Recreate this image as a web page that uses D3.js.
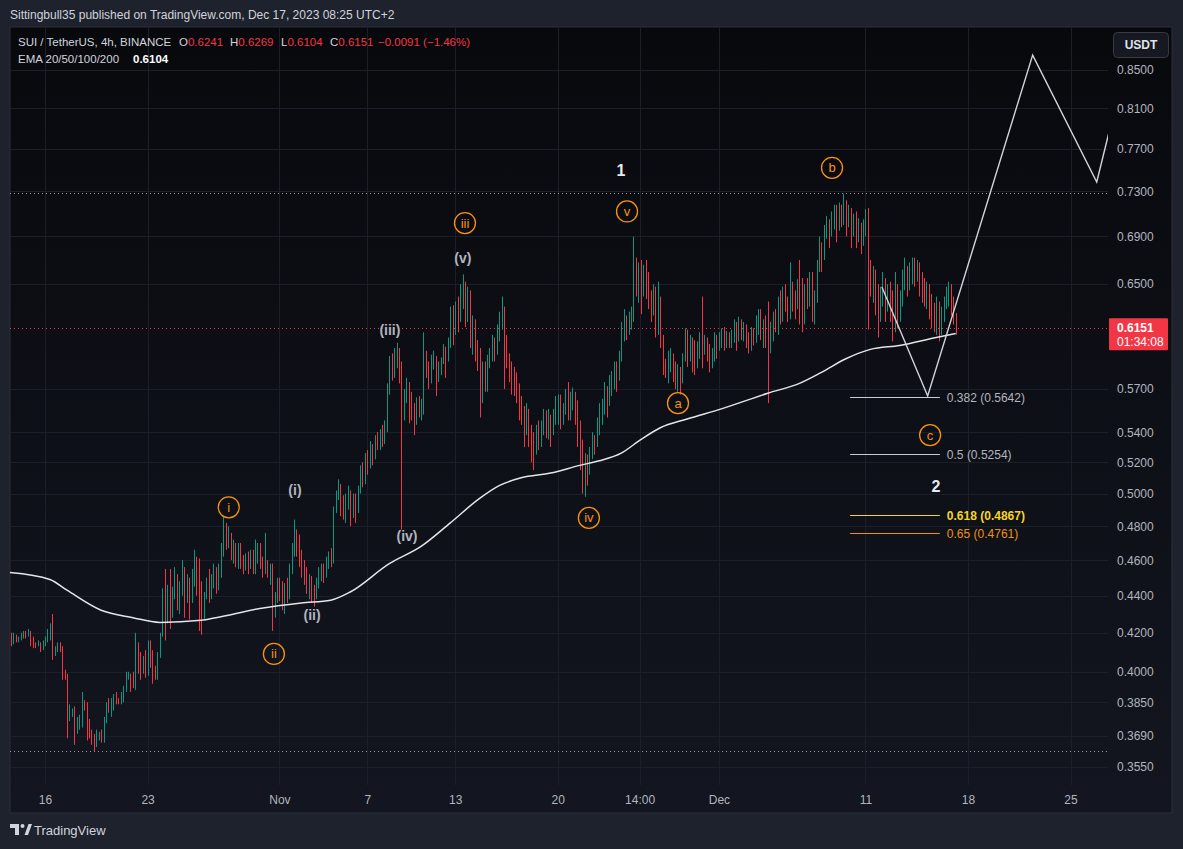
<!DOCTYPE html>
<meta charset="utf-8">
<style>
body { margin: 0; background: #1e222d; }
svg { display: block; font-family: "Liberation Sans", Arial, sans-serif; }
</style>
<body>
<svg width="1183" height="849"></svg>
<script src="https://cdn.jsdelivr.net/npm/d3@7"></script>
<script>

// SUI/USDT 4h bars, first bar Oct 13 16:00 UTC, prices x1000
var closes = [
  415,419,416,417,418,420,419,421,417,414,
  413,415,412,415,417,420,423,408,412,414,
  411,398,397,377,379,381,370,375,378,385,
  382,371,369,368,364,369,370,367,376,384,
  381,385,389,386,385,389,392,397,399,394,
  393,415,403,400,405,399,415,408,398,396,
  408,418,440,425,445,428,440,450,437,445,
  455,442,448,438,452,460,445,436,428,440,
  446,440,448,452,445,455,468,478,470,474,
  465,468,462,468,460,456,462,458,464,455,
  462,468,460,454,456,452,456,430,440,448,
  442,436,445,440,456,466,472,468,460,458,
  450,445,450,442,440,446,451,456,452,458,
  462,460,490,498,505,497,486,495,500,492,
  498,490,502,515,508,522,518,530,526,535,
  532,538,536,545,570,590,585,592,596,580,
  552,565,572,562,556,548,560,553,560,595,
  585,576,588,592,580,585,590,598,592,605,
  625,618,632,626,640,645,625,640,610,618,
  600,596,580,585,575,590,596,604,600,612,
  622,630,606,592,585,580,578,570,560,552,
  545,555,540,535,528,540,536,545,550,542,
  548,540,553,556,560,550,558,566,555,560,
  567,555,548,530,510,522,515,528,535,532,
  545,552,560,565,560,572,575,582,578,595,
  615,620,612,625,628,670,650,660,640,655,
  645,640,630,640,618,630,608,590,580,585,
  590,582,578,580,574,590,598,592,605,600,
  590,600,608,598,605,600,588,596,604,598,
  606,612,605,610,603,608,612,606,618,612,
  615,608,602,612,608,620,625,612,618,605,
  600,615,625,618,632,625,640,632,628,645,
  640,630,650,640,620,645,638,650,628,640,
  665,680,675,690,700,692,705,712,700,715,
  705,722,705,712,698,706,692,700,690,700,
  705,665,650,660,642,630,640,650,640,645,
  630,615,640,625,640,648,658,652,660,668,
  660,664,655,650,642,648,638,625,620,630,
  615,625,635,640,648,635,624,615
];
var highs = [
  420,420,419,418,420,421,421,422,421,418,
  415,416,415,416,418,422,425,430,413,415,
  415,413,401,399,384,382,383,378,379,390,
  386,385,377,372,370,372,371,372,378,385,
  387,387,389,390,387,390,393,400,400,399,
  400,420,412,410,408,411,416,416,411,403,
  410,420,444,455,446,455,445,456,452,448,
  460,456,452,450,455,466,462,461,448,442,
  450,455,452,458,456,458,470,486,482,480,
  476,472,470,470,470,463,464,465,466,466,
  472,470,470,462,476,460,458,458,442,450,
  450,448,447,450,458,470,484,478,475,466,
  460,456,452,451,446,450,456,458,458,462,
  465,467,492,502,509,506,499,500,505,502,
  500,500,505,518,520,526,528,534,532,538,
  540,542,545,548,574,594,596,600,604,600,
  590,570,578,575,568,560,564,565,563,612,
  598,590,595,598,594,590,593,603,601,608,
  632,633,636,640,650,658,652,648,645,625,
  622,606,600,590,590,595,600,610,608,618,
  628,640,632,610,596,590,586,582,574,565,
  558,560,556,545,540,545,548,548,556,555,
  556,552,556,565,566,566,560,570,575,568,
  571,568,562,545,535,526,525,530,540,538,
  550,560,563,575,572,580,583,590,590,598,
  620,630,625,628,632,690,672,668,670,666,
  670,660,645,650,648,652,640,610,592,598,
  600,596,590,588,586,596,615,614,610,608,
  606,605,612,640,610,608,603,600,612,610,
  612,615,616,613,612,614,622,620,624,622,
  620,618,612,616,615,625,630,630,622,625,
  636,620,628,630,640,645,648,650,640,668,
  652,645,654,670,655,650,655,660,660,645,
  670,690,685,700,708,705,712,718,718,720,
  718,728,722,718,715,710,712,706,702,705,
  714,715,670,665,662,650,648,660,655,650,
  652,645,660,650,645,662,672,665,668,672,
  672,670,668,660,655,652,650,642,635,640,
  636,632,640,648,652,650,640,627
];
var lows = [
  413,414,415,415,416,417,417,418,413,412,
  412,413,410,411,413,415,416,406,408,410,
  410,396,396,368,376,378,365,370,372,373,
  381,367,368,365,362,365,367,366,366,375,
  380,378,381,384,384,384,385,390,396,390,
  392,391,399,396,399,397,398,402,394,396,
  396,407,420,416,425,422,428,438,432,430,
  440,428,436,427,436,445,440,421,419,427,
  438,436,438,444,441,443,450,462,466,467,
  460,458,456,455,455,452,454,452,455,452,
  452,458,455,450,452,450,446,421,428,436,
  437,432,430,436,438,452,462,462,456,450,
  446,441,438,436,434,438,444,448,447,450,
  455,456,458,488,496,486,484,482,490,480,
  485,482,488,500,504,506,512,516,518,522,
  528,528,530,532,540,566,576,578,585,574,
  478,548,560,546,548,538,545,550,548,552,
  578,570,574,584,565,575,580,588,578,590,
  600,602,610,612,620,630,616,620,600,595,
  590,583,550,560,568,568,585,590,590,595,
  605,614,570,585,575,566,565,560,548,545,
  530,538,530,520,515,525,528,530,538,536,
  535,530,538,545,545,542,545,552,548,548,
  555,545,530,515,500,498,505,512,522,525,
  530,538,545,552,550,558,565,570,568,576,
  590,605,606,610,614,620,640,635,626,640,
  638,630,620,625,608,610,600,580,578,574,
  582,575,570,568,566,574,590,586,590,582,
  580,585,592,585,595,590,582,585,590,592,
  598,600,598,600,600,600,604,598,605,606,
  605,600,596,598,602,604,610,606,600,600,
  560,596,605,612,610,618,620,628,620,622,
  628,622,630,618,612,618,630,632,620,618,
  635,660,660,670,688,680,690,696,685,695,
  698,700,690,698,680,690,680,685,675,682,
  690,614,640,635,625,608,620,632,620,628,
  620,605,612,615,620,632,645,640,645,650,
  648,652,640,635,632,630,622,615,612,610,
  605,610,620,630,632,625,618,610
];
var firstOpen = 418;

// EMA 200: bar index -> value
var emaIdx = [-1,16,23,37,50,61,78,84,102,119,131,139,155,168,180,192,200,209,221,233,241,250,258,266,277,291,310,323,332,342,352,364,379,387];
var emaVal = [0.4530,0.4490,0.4430,0.4320,0.4280,0.4255,0.4266,0.4280,0.4330,0.4360,0.4375,0.4420,0.4580,0.4680,0.4820,0.4970,0.5050,0.5100,0.5130,0.5180,0.5210,0.5260,0.5350,0.5430,0.5490,0.5560,0.5670,0.5740,0.5820,0.5920,0.5990,0.6020,0.6080,0.6110];

var priceTicks = [0.85,0.81,0.77,0.73,0.69,0.65,0.57,0.54,0.52,0.50,0.48,0.46,0.44,0.42,0.40,0.385,0.369,0.355];
var timeTicks = ["2023-10-16T00:00Z","2023-10-23T00:00Z","2023-11-01T00:00Z","2023-11-07T00:00Z","2023-11-13T00:00Z","2023-11-20T00:00Z","2023-11-25T14:00Z","2023-12-01T00:00Z","2023-12-11T00:00Z","2023-12-18T00:00Z","2023-12-25T00:00Z"];
var timeLabels = ["16","23","Nov","7","13","20","14:00","Dec","11","18","25"];

var lastPrice = 0.6151;
var markLevels = [0.7286, 0.3620];

// fib retracement
var fibRatios = ["0.382","0.5","0.618","0.65"];
var fibPrices = [0.5642,0.5254,0.4867,0.4761];
var fibColors = ["#c9ccd4","#c9ccd4","#f5d42a","#f0900f"];
var fibFrom = "2023-12-09T23:00Z", fibTo = "2023-12-16T02:00Z";

// projected path
var projDates = ["2023-12-12T03:00Z","2023-12-15T06:00Z","2023-12-22T10:00Z","2023-12-26T19:00Z","2023-12-27T19:00Z"];
var projPrices = [0.6477,0.5650,0.8660,0.7387,0.7960];

// wave labels
var circLabels = ["i","ii","iii","iv","v","a","b","c"];
var circDates = ["2023-10-28T13:00Z","2023-10-31T15:00Z","2023-11-13T16:00Z","2023-11-22T03:00Z","2023-11-24T17:30Z","2023-11-28T05:00Z","2023-12-08T17:20Z","2023-12-15T10:00Z"];
var circPrices = [0.4915,0.4090,0.7017,0.4850,0.7120,0.5600,0.7520,0.5380];
var parenLabels = ["(i)","(ii)","(iii)","(iv)","(v)"];
var parenDates = ["2023-11-02T01:30Z","2023-11-03T05:30Z","2023-11-08T13:00Z","2023-11-09T17:00Z","2023-11-13T12:40Z"];
var parenPrices = [0.5020,0.4295,0.6135,0.4740,0.6715];
var bigLabels = ["1","2"];
var bigDates = ["2023-11-24T07:40Z","2023-12-15T19:40Z"];
var bigPrices = [0.7500,0.5050];

var svg = d3.select("svg");
var day = 864e5;
var oct16 = Date.UTC(2023, 9, 16);
var pane = {l: 10, r: 1108, t: 27, b: 785};

var x = d3.scaleUtc()
    .domain([new Date(oct16 - 35 / 14.65 * day), new Date(oct16 + 1063 / 14.65 * day)])
    .range([10, 1108]);
var y = d3.scaleLog().domain([0.355, 0.85]).range([767, 70]);

var barTime = i => new Date(Date.UTC(2023, 9, 13, 16) + i * 4 * 36e5);

// background
var defs = svg.append("defs");
var grad = defs.append("linearGradient").attr("id", "bg").attr("x1", 0).attr("x2", 0).attr("y1", 0).attr("y2", 1);
grad.append("stop").attr("offset", "0%").attr("stop-color", "#08090d");
grad.append("stop").attr("offset", "100%").attr("stop-color", "#131620");
defs.append("clipPath").attr("id", "pane").append("rect")
    .attr("x", pane.l).attr("y", pane.t).attr("width", pane.r - pane.l).attr("height", pane.b - pane.t);

svg.append("rect").attr("x", pane.l).attr("y", pane.t).attr("width", 1172 - pane.l).attr("height", 813 - pane.t)
    .attr("fill", "url(#bg)").attr("stroke", "#2a2e39");

svg.append("text").attr("x", 10).attr("y", 19).attr("fill", "#d1d4dc").attr("font-size", 12)
    .text("Sittingbull35 published on TradingView.com, Dec 17, 2023 08:25 UTC+2");

// grid
var grid = svg.append("g").attr("stroke", "#1c1f2a").attr("stroke-width", 1);
grid.selectAll(".h").data(priceTicks).enter().append("line")
    .attr("x1", pane.l).attr("x2", pane.r)
    .attr("y1", d => Math.round(y(d)) + 0.5).attr("y2", d => Math.round(y(d)) + 0.5);
grid.selectAll(".v").data(timeTicks).enter().append("line")
    .attr("x1", d => Math.round(x(new Date(d))) + 0.5).attr("x2", d => Math.round(x(new Date(d))) + 0.5)
    .attr("y1", pane.t).attr("y2", pane.b);

var plot = svg.append("g").attr("clip-path", "url(#pane)");

// dotted marks
plot.selectAll(".mark").data(markLevels).enter().append("line")
    .attr("x1", pane.l).attr("x2", pane.r)
    .attr("y1", d => Math.round(y(d)) + 0.5).attr("y2", d => Math.round(y(d)) + 0.5)
    .attr("stroke", "#9598a1").attr("stroke-dasharray", "1,3");

// candles
var bars = closes.map((c, i) => {
  var o = i ? closes[i - 1] : firstOpen;
  return {t: barTime(i), o: o / 1000, c: c / 1000,
          h: Math.max(highs[i], o, c) / 1000, l: Math.min(lows[i], o, c) / 1000};
});
plot.append("g").selectAll("rect").data(bars).enter().append("rect")
    .attr("x", d => Math.round(x(d.t)))
    .attr("width", 1)
    .attr("y", d => y(d.h))
    .attr("height", d => Math.max(1, y(d.l) - y(d.h)))
    .attr("fill", d => d.c >= d.o ? "#089981" : "#f23645");

// ema 200
var ema = d3.line()
    .x((d, i) => x(barTime(emaIdx[i])))
    .y(d => y(d))
    .curve(d3.curveMonotoneX);
plot.append("path").datum(emaVal).attr("d", ema)
    .attr("fill", "none").attr("stroke", "#e3e5ea").attr("stroke-width", 1.5);

// last price line
plot.append("line").attr("x1", pane.l).attr("x2", pane.r)
    .attr("y1", Math.round(y(lastPrice)) + 0.5).attr("y2", Math.round(y(lastPrice)) + 0.5)
    .attr("stroke", "#f23645").attr("stroke-dasharray", "1,3");

// fib
var fg = plot.append("g");
fibPrices.forEach((p, i) => {
  var yy = Math.round(y(p)) + 0.5;
  fg.append("line").attr("x1", x(new Date(fibFrom))).attr("x2", x(new Date(fibTo)))
      .attr("y1", yy).attr("y2", yy).attr("stroke", fibColors[i]).attr("stroke-width", 1);
  fg.append("text").attr("x", x(new Date(fibTo)) + 7).attr("y", yy + 4)
      .attr("fill", fibColors[i] == "#c9ccd4" ? "#b2b5be" : fibColors[i])
      .attr("font-size", 12).attr("font-weight", i == 2 ? "bold" : "normal")
      .text(fibRatios[i] + " (" + p.toFixed(4) + ")");
});

// projection
plot.append("path")
    .datum(projDates.map((d, i) => [new Date(d), projPrices[i]]))
    .attr("d", d3.line().x(d => x(d[0])).y(d => y(d[1])))
    .attr("fill", "none").attr("stroke", "#d1d4dc").attr("stroke-width", 1.4);

// wave labels
var lg = plot.append("g").attr("text-anchor", "middle");
circLabels.forEach((t, i) => {
  var cx = x(new Date(circDates[i])), cy = y(circPrices[i]);
  lg.append("circle").attr("cx", cx).attr("cy", cy).attr("r", 10.5)
      .attr("fill", "none").attr("stroke", "#f7930f").attr("stroke-width", 1.3);
  lg.append("text").attr("x", cx).attr("y", cy + 4.5).attr("fill", "#f7930f")
      .attr("font-size", 13).text(t);
});
parenLabels.forEach((t, i) => {
  lg.append("text").attr("x", x(new Date(parenDates[i]))).attr("y", y(parenPrices[i]) + 5)
      .attr("fill", "#b2b5be").attr("font-size", 14).attr("font-weight", "bold").text(t);
});
bigLabels.forEach((t, i) => {
  lg.append("text").attr("x", x(new Date(bigDates[i]))).attr("y", y(bigPrices[i]) + 6)
      .attr("fill", "#e8eaef").attr("font-size", 16).attr("font-weight", "bold").text(t);
});

// price axis
var yAxis = svg.append("g").attr("transform", "translate(" + pane.r + ",0)")
    .call(d3.axisRight(y).tickValues(priceTicks).tickFormat(d3.format(".4f")).tickSize(0).tickPadding(9));
yAxis.select(".domain").remove();
yAxis.selectAll("text").attr("fill", "#b2b5be").attr("font-size", 12)
    .attr("font-family", "Liberation Sans, Arial, sans-serif");

// time axis
var xAxis = svg.append("g").attr("transform", "translate(0," + pane.b + ")")
    .call(d3.axisBottom(x).tickValues(timeTicks.map(d => new Date(d)))
      .tickFormat((d, i) => timeLabels[i]).tickSize(0).tickPadding(10));
xAxis.select(".domain").remove();
xAxis.selectAll("text").attr("fill", "#b2b5be").attr("font-size", 12)
    .attr("font-family", "Liberation Sans, Arial, sans-serif");

// last price tag
var ly = y(lastPrice);
svg.append("rect").attr("x", 1109).attr("y", ly - 10).attr("width", 59).attr("height", 32)
    .attr("fill", "#f23645").attr("rx", 1);
svg.append("text").attr("x", 1117).attr("y", ly + 4).attr("fill", "#fff").attr("font-size", 12)
    .attr("font-weight", "bold").text(lastPrice.toFixed(4));
svg.append("text").attr("x", 1117).attr("y", ly + 18).attr("fill", "#fff").attr("font-size", 12)
    .text("01:34:08");

// currency button
svg.append("rect").attr("x", 1113.5).attr("y", 32.5).attr("width", 55).attr("height", 25).attr("rx", 4)
    .attr("fill", "#161922").attr("stroke", "#363a45");
svg.append("text").attr("x", 1141).attr("y", 49).attr("text-anchor", "middle").attr("fill", "#e0e3eb")
    .attr("font-size", 12).attr("font-weight", "bold").text("USDT");

// legend
var leg = svg.append("g").attr("font-size", 11.5);
var l1 = leg.append("text").attr("x", 18).attr("y", 46).attr("fill", "#d1d4dc");
l1.append("tspan").text("SUI / TetherUS, 4h, BINANCE");
[["O", "0.6241", 179], ["H", "0.6269", 230], ["L", "0.6104", 281], ["C", "0.6151", 330]].forEach(p => {
  l1.append("tspan").attr("x", p[2]).text(p[0]);
  l1.append("tspan").attr("fill", "#f23645").text(p[1]);
});
l1.append("tspan").attr("x", 378).attr("fill", "#f23645").text("\u22120.0091 (\u22121.46%)");
var l2 = leg.append("text").attr("x", 18).attr("y", 63).attr("fill", "#d1d4dc");
l2.append("tspan").text("EMA 20/50/100/200");
l2.append("tspan").attr("x", 133).attr("fill", "#ffffff").attr("font-weight", "bold").text("0.6104");

// logo
var logo = svg.append("g").attr("fill", "#d1d4dc");
logo.append("path").attr("d", "M10 824h9v11h-4v-7h-5z");
logo.append("circle").attr("cx", 22.5).attr("cy", 826).attr("r", 2);
logo.append("path").attr("d", "M24.5 835l4-11h3.5l-4 11z");
logo.append("text").attr("x", 34).attr("y", 835).attr("font-size", 13).text("TradingView");

</script>
</body>
